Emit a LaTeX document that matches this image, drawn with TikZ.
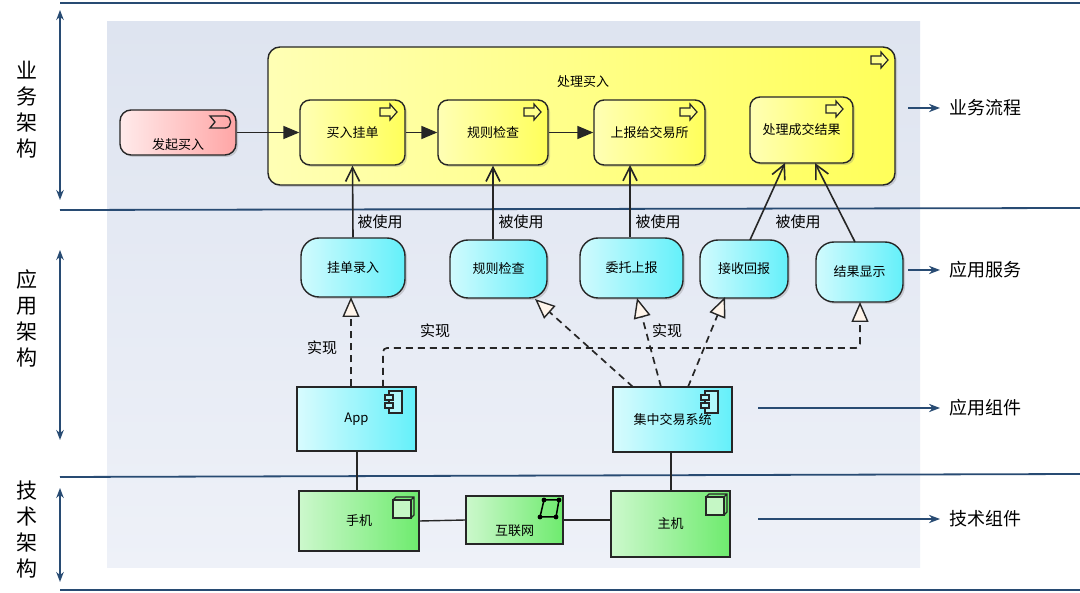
\documentclass[tikz,border=0pt]{standalone}
\usepackage{fontspec}
\setmainfont{Noto Sans CJK SC}
\usetikzlibrary{arrows.meta,shadows,calc}
\definecolor{lineb}{RGB}{40,75,115}
\definecolor{yel}{RGB}{255,255,90}
\definecolor{cy}{RGB}{100,240,250}
\definecolor{gr}{RGB}{110,235,110}
\definecolor{bgt}{RGB}{222,228,240}
\definecolor{bgb}{RGB}{238,241,248}
\tikzset{
 every node/.style={font=\fontsize{13}{15}\selectfont},
 proc/.style={draw=black!85,rounded corners=10pt,left color=yel!45,right color=yel,line width=1.4pt,drop shadow={opacity=0.3,shadow xshift=2pt,shadow yshift=-2pt}},
 svc/.style={draw=black!85,rounded corners=18pt,left color=cy!30,right color=cy,line width=1.4pt,drop shadow={opacity=0.3,shadow xshift=2pt,shadow yshift=-2pt}},
 comp/.style={draw=black!85,left color=cy!25,right color=cy,line width=1.4pt},
 tech/.style={draw=black!85,left color=gr!35,right color=gr,line width=1.4pt},
 used/.style={draw=black!85,line width=1.6pt,-{Straight Barb[length=14pt,width=14pt,line width=1.6pt]}},
 real/.style={draw=black!85,line width=1.7pt,dash pattern=on 7pt off 5pt,-{Triangle[open,fill=orange!8!white,length=20pt,width=17pt,line width=1.4pt]}},
 flow/.style={draw=black!85,line width=1.6pt,-{Triangle[length=16pt,width=13pt]}},
 sep/.style={draw=lineb,line width=1.8pt},
 side/.style={draw=lineb,line width=1.8pt,{Stealth[length=10pt]}-{Stealth[length=10pt]}},
 ra/.style={draw=lineb,line width=1.8pt,-{Stealth[length=11pt]}},
 lab/.style={font=\fontsize{15}{18}\selectfont},
 rlab/.style={font=\fontsize{18}{21}\selectfont},
 big/.style={font=\fontsize{21}{26}\selectfont},
}
\newcommand{\procicon}[2]{\draw[black!85,line width=1.2pt,fill=yel!70] ($(#1,#2)+(-9,-4)$) -- ++(10,0) -- ++(0,-4) -- ++(7,8) -- ++(-7,8) -- ++(0,-4) -- ++(-10,0) -- cycle;}
\begin{document}
\begin{tikzpicture}[x=1pt,y=-1pt]
\useasboundingbox (0,0) rectangle (1080,593);
\fill[white] (0,0) rectangle (1080,593);
\shade[top color=bgt,bottom color=bgb] (107,22) rectangle (920,568);
% separators
\draw[sep] (60,3) -- (1080,3);
\draw[sep] (60,210) -- (1080,208);
\draw[sep] (60,477) -- (1080,474);
\draw[sep] (60,590) -- (1080,590);
\draw[side] (60,10) -- (60,200);
\draw[side] (60,250) -- (60,440);
\draw[side] (60,488) -- (60,582);
\node[big,align=center,inner sep=0] (l1) at (27,110) {业\\务\\架\\构};
\node[big,align=center,inner sep=0] (l2) at (27,318) {应\\用\\架\\构};
\node[big,align=center,inner sep=0] (l3) at (27,530) {技\\术\\架\\构};
% big process
\node[proc,rounded corners=12pt,minimum width=627pt,minimum height=138pt,inner sep=0] (big) at (581.5,116) {};
\node (bigt) at (583,82) {处理买入};
\procicon{880}{60}
% subprocesses
\node[proc,minimum width=105pt,minimum height=65pt] (p1) at (352.5,132.5) {买入挂单};
\node[proc,minimum width=110pt,minimum height=65pt] (p2) at (493,132.5) {规则检查};
\node[proc,minimum width=111pt,minimum height=65pt] (p3) at (649.5,132.5) {上报给交易所};
\node[proc,minimum width=103pt,minimum height=66pt] (p4) at (801.5,130) {处理成交结果};
\procicon{389}{112}\procicon{533}{112}\procicon{689}{112}\procicon{835}{109}
% event
\node[draw=black!85,rounded corners=11pt,left color=red!8,right color=red!35,line width=1.4pt,minimum width=116pt,minimum height=45pt,drop shadow={opacity=0.3,shadow xshift=2pt,shadow yshift=-2pt}] (ev) at (178,132.5) {};
\node (evt) at (178,145) {发起买入};
\draw[black!85,line width=1.3pt] (210,116) -- (225,116) to[out=0,in=0,looseness=1.6] (225,128) -- (210,128) -- (215,122) -- cycle;
\draw[flow] (ev) -- (p1);
\draw[flow] (p1) -- (p2);
\draw[flow] (p2) -- (p3);
% services
\node[svc,minimum width=104pt,minimum height=59pt] (s1) at (353,267.5) {挂单录入};
\node[svc,minimum width=97pt,minimum height=58pt] (s2) at (498.5,269) {规则检查};
\node[svc,minimum width=103pt,minimum height=60pt] (s3) at (631.5,268) {委托上报};
\node[svc,minimum width=88pt,minimum height=58pt] (s4) at (744,269) {接收回报};
\node[svc,minimum width=87pt,minimum height=60pt] (s5) at (859.5,272) {结果显示};
% used-by
\draw[used] (s1.north) -- (p1.south);
\draw[used] (s2.north -| p2.south) -- (p2.south);
\draw[used] (s3.north -| 630,0) -- (630,165);
\draw[used] (750,240) -- (785,163);
\draw[used] (855,242) -- (815,163);
\node[lab] (u1) at (380,222) {被使用};
\node[lab] (u2) at (521,222) {被使用};
\node[lab] (u3) at (658,222) {被使用};
\node[lab] (u4) at (798,222) {被使用};
% components
\node[comp,minimum width=119pt,minimum height=64pt] (app) at (356.5,419) {App};
\node[comp,minimum width=119pt,minimum height=65pt] (cts) at (672.5,419.5) {集中交易系统};
\foreach \cx/\cy in {389/391,705/391}{
 \draw[black!85,fill=cy!50,line width=1.1pt] (\cx,\cy) rectangle ++(13,22);
 \draw[black!85,fill=cy!50,line width=1.1pt] (\cx-4,\cy+4) rectangle ++(8,5);
 \draw[black!85,fill=cy!50,line width=1.1pt] (\cx-4,\cy+12) rectangle ++(8,5);}
% realizations
\draw[real] (app.north -| 351,0) -- (351,297);
\draw[real] (383,387) -- (383,352) [rounded corners=4pt] -- (383,348) -- (860,348) -- (860,302);
\draw[real] (633,387) -- (535,299);
\draw[real] (661,387) -- (637,298);
\draw[real] (688,387) -- (725,297);
\node[lab] (r1) at (322,348) {实现};
\node[lab] (r2) at (435,331) {实现};
\node[lab] (r3) at (667,331) {实现};
% tech
\node[tech,minimum width=120pt,minimum height=60pt] (ph) at (359,521) {手机};
\node[tech,minimum width=97pt,minimum height=48pt] (net) at (514.5,520) {};
\node (nett) at (514.5,531) {互联网};
\node[tech,minimum width=119pt,minimum height=66pt] (host) at (670.5,524) {主机};
\foreach \cx/\cy in {393/497,706/494}{
 \draw[black!85,fill=gr!40,line width=1.2pt] (\cx,\cy+3) rectangle ++(18,18);
 \draw[black!85,line width=1.2pt] (\cx,\cy+3) -- ++(3,-3) -- ++(18,0) -- ++(0,18) -- ++(-3,3) (\cx+18,\cy+3) -- ++(3,-3);}
\draw[black,line width=1.5pt] (544,500) -- (559,500) -- (556,517) -- (540,517) -- cycle;
\foreach \p in {(544,500),(559,500),(556,517),(540,517)} \fill \p circle (2.4);
\draw[black!85,line width=1.4pt] (app.south -| 357,0) -- (ph.north -| 357,0);
\draw[black!85,line width=1.4pt] (cts.south -| 671,0) -- (host.north -| 671,0);
\draw[black!85,line width=1.4pt] (ph.east) -- (net.west);
\draw[black!85,line width=1.4pt] (net.east) -- (host.west |- net.east);
% right labels
\coordinate (a1) at (908,108); \coordinate (b1) at (940,108);
\coordinate (a2) at (908,270); \coordinate (b2) at (940,270);
\coordinate (a3) at (758,408); \coordinate (b3) at (940,408);
\coordinate (a4) at (758,519); \coordinate (b4) at (940,519);
\draw[ra] (a1) -- (b1); \draw[ra] (a2) -- (b2); \draw[ra] (a3) -- (b3); \draw[ra] (a4) -- (b4);
\node[rlab,anchor=west] (t1) at (946,108) {业务流程};
\node[rlab,anchor=west] (t2) at (946,270) {应用服务};
\node[rlab,anchor=west] (t3) at (946,408) {应用组件};
\node[rlab,anchor=west] (t4) at (946,519) {技术组件};
\end{tikzpicture}
\end{document}
